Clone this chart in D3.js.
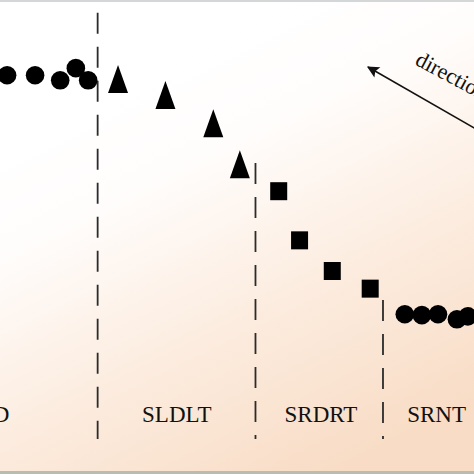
<!DOCTYPE html>
<html>
<head>
<meta charset="utf-8">
<script src="https://cdn.jsdelivr.net/npm/d3@7"></script>
<style>
  html, body { margin: 0; padding: 0; background: #fff; }
  svg { display: block; }
</style>
</head>
<body>
<div id="chart"></div>
<script>
const width = 474;
const height = 474;

// values (x: position along the manoeuvre, y: level)
const startX = [1.5, 7.4, 12.7, 16.0, 18.6];
const startY = [86.6, 86.6, 85.4, 88.3, 85.4];
const leftTurnX = [24.9, 34.9, 45.0, 50.6];
const leftTurnY = [85.7, 81.9, 75.2, 65.4];
const rightTurnX = [58.8, 63.2, 70.1, 78.1];
const rightTurnY = [59.0, 47.3, 40.0, 35.8];
const endX = [85.4, 89.0, 92.4, 96.4, 98.7];
const endY = [29.7, 29.5, 29.7, 28.5, 29.2];

const boundaryX = [20.6, 53.9, 80.8];
const boundaryTop = [101.5, 65.7, 33.1];

const phaseLabels = ['D', 'SLDLT', 'SRDRT', 'SRNT'];
const phaseLabelX = [0.2, 37.3, 67.7, 92.1];

const arrowText = 'direction';

const x = d3.scaleLinear().domain([0, 100]).range([0, width]);
const y = d3.scaleLinear().domain([0, 100]).range([439, 19]);

const svg = d3.select('#chart')
    .append('svg')
    .attr('width', width)
    .attr('height', height)
    .attr('viewBox', [0, 0, width, height]);

const defs = svg.append('defs');
const grad = defs.append('linearGradient')
    .attr('id', 'bg')
    .attr('x1', '0.3').attr('y1', '0.15')
    .attr('x2', '0.72').attr('y2', '1');
grad.append('stop').attr('offset', '0').attr('stop-color', '#ffffff');
grad.append('stop').attr('offset', '0.22').attr('stop-color', '#fffdfc');
grad.append('stop').attr('offset', '0.6').attr('stop-color', '#fcecdf');
grad.append('stop').attr('offset', '1').attr('stop-color', '#f8dcc5');

svg.append('rect')
    .attr('width', width).attr('height', height)
    .attr('fill', 'url(#bg)');

// thin frame strips at top and bottom of the scanned figure
svg.append('rect').attr('x', 0).attr('y', 0).attr('width', width).attr('height', 2).attr('fill', '#d3d7d7');
svg.append('rect').attr('x', 0).attr('y', 471).attr('width', width).attr('height', 3).attr('fill', '#b9bdb1');

// dashed phase boundaries
svg.append('g')
    .selectAll('line')
    .data(boundaryX)
    .join('line')
        .attr('x1', d => x(d))
        .attr('x2', d => x(d))
        .attr('y1', (d, i) => y(boundaryTop[i]))
        .attr('y2', y(0))
        .attr('stroke', '#2b2b2b')
        .attr('stroke-width', 1.8)
        .attr('stroke-dasharray', '21,13');

const marks = svg.append('g').attr('fill', '#000');

function circles(xs, ys) {
    marks.append('g')
        .selectAll('circle')
        .data(xs)
        .join('circle')
            .attr('cx', d => x(d))
            .attr('cy', (d, i) => y(ys[i]))
            .attr('r', 9.3);
}

circles(startX, startY);
circles(endX, endY);

marks.append('g')
    .selectAll('path')
    .data(leftTurnX)
    .join('path')
        .attr('d', (d, i) => {
            const cx = x(d), cy = y(leftTurnY[i]);
            return `M${cx},${cy - 14}L${cx + 10},${cy + 14}L${cx - 10},${cy + 14}Z`;
        });

marks.append('g')
    .selectAll('rect')
    .data(rightTurnX)
    .join('rect')
        .attr('x', d => x(d) - 8.5)
        .attr('y', (d, i) => y(rightTurnY[i]) - 9)
        .attr('width', 17)
        .attr('height', 18);

// phase labels
svg.append('g')
    .attr('font-family', '"Liberation Serif", "DejaVu Serif", serif')
    .attr('font-size', '23px')
    .attr('fill', '#111')
    .attr('text-anchor', 'middle')
    .selectAll('text')
    .data(phaseLabels)
    .join('text')
        .attr('x', (d, i) => x(phaseLabelX[i]))
        .attr('y', 422)
        .text(d => d);

// direction arrow
defs.append('marker')
    .attr('id', 'head')
    .attr('viewBox', '0 0 10 10')
    .attr('refX', 9).attr('refY', 5)
    .attr('markerUnits', 'userSpaceOnUse')
    .attr('markerWidth', 18).attr('markerHeight', 12)
    .attr('orient', 'auto')
    .append('path')
    .attr('d', 'M0,0L10,5L0,10L2,5Z')
    .attr('fill', '#111');

svg.append('line')
    .attr('x1', 476).attr('y1', 129)
    .attr('x2', 368).attr('y2', 67)
    .attr('stroke', '#111')
    .attr('stroke-width', 1.5)
    .attr('marker-end', 'url(#head)');

svg.append('text')
    .attr('transform', 'translate(414,64) rotate(28)')
    .attr('font-family', '"Liberation Serif", "DejaVu Serif", serif')
    .attr('font-size', '22px')
    .attr('fill', '#111')
    .text(arrowText);

svg.node();
</script>
</body>
</html>
